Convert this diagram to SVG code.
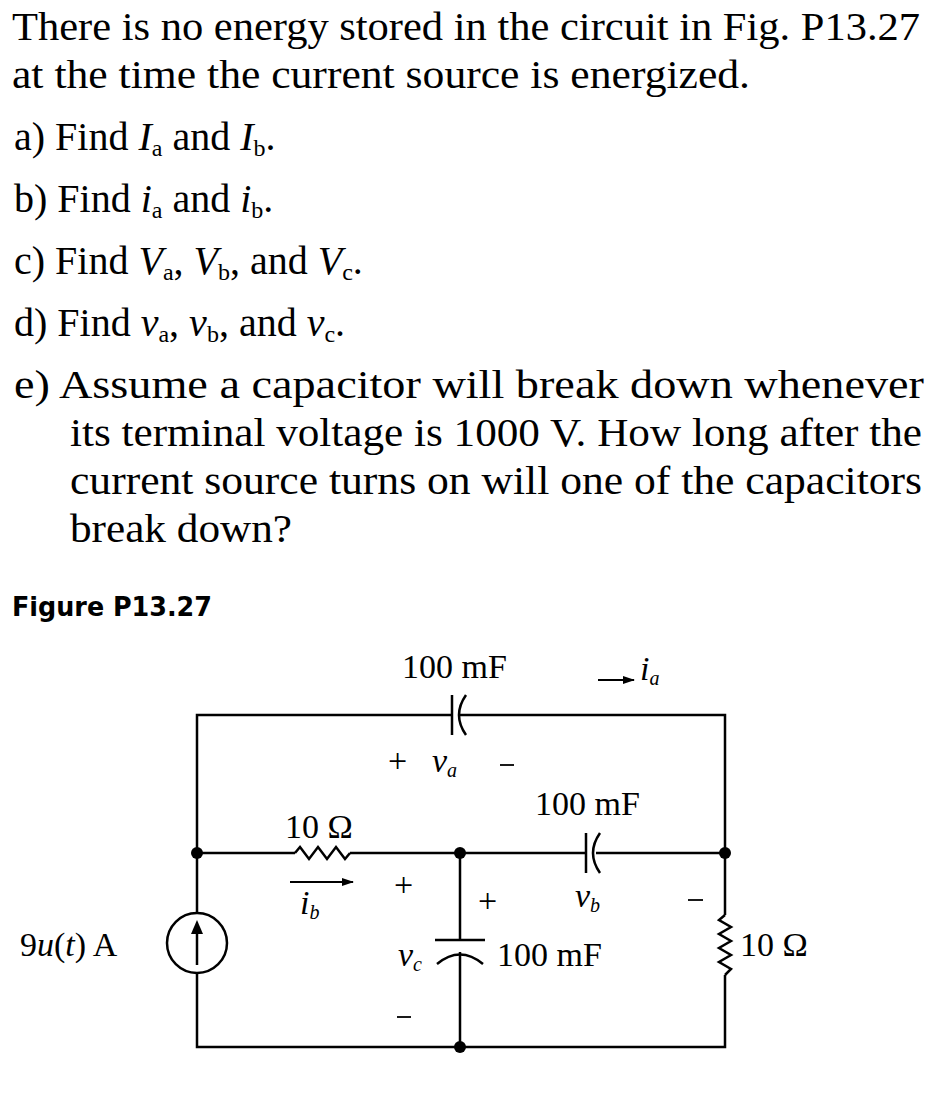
<svg xmlns="http://www.w3.org/2000/svg" width="938" height="1094" viewBox="0 0 938 1094">
<style>
.t{font-family:"Liberation Serif",serif;font-size:40px;fill:#000}
.c{font-family:"Liberation Serif",serif;font-size:34px;fill:#000}
.i{font-style:italic}
.w{stroke:#000;stroke-width:2.5;fill:none}
.m{stroke:#000;stroke-width:1.8}
.f{font-family:"DejaVu Sans Condensed","Liberation Sans",sans-serif;font-weight:bold;font-size:26px}
</style>
<defs><marker id="ah" markerWidth="12" markerHeight="8" refX="11" refY="4" orient="auto" markerUnits="userSpaceOnUse"><path d="M0,0L12,4L0,8z" fill="#000"/></marker></defs>
<rect width="938" height="1094" fill="#fff"/>
<g id="text">
<text class="t" x="12" y="40" textLength="908" lengthAdjust="spacingAndGlyphs">There is no energy stored in the circuit in Fig. P13.27</text>
<text class="t" x="12" y="88" textLength="738" lengthAdjust="spacingAndGlyphs">at the time the current source is energized.</text>
<text class="t" x="14" y="150">a)  Find <tspan class="i">I</tspan><tspan font-size="24" dy="6">a</tspan><tspan dy="-6"> and </tspan><tspan class="i">I</tspan><tspan font-size="24" dy="6">b</tspan><tspan dy="-6">.</tspan></text>
<text class="t" x="14" y="212">b)  Find <tspan class="i">i</tspan><tspan font-size="24" dy="6">a</tspan><tspan dy="-6"> and </tspan><tspan class="i">i</tspan><tspan font-size="24" dy="6">b</tspan><tspan dy="-6">.</tspan></text>
<text class="t" x="14" y="274">c)  Find <tspan class="i">V</tspan><tspan font-size="24" dy="6">a</tspan><tspan dy="-6">, </tspan><tspan class="i">V</tspan><tspan font-size="24" dy="6">b</tspan><tspan dy="-6">, and </tspan><tspan class="i">V</tspan><tspan font-size="24" dy="6">c</tspan><tspan dy="-6">.</tspan></text>
<text class="t" x="14" y="336">d)  Find <tspan class="i">v</tspan><tspan font-size="24" dy="6">a</tspan><tspan dy="-6">, </tspan><tspan class="i">v</tspan><tspan font-size="24" dy="6">b</tspan><tspan dy="-6">, and </tspan><tspan class="i">v</tspan><tspan font-size="24" dy="6">c</tspan><tspan dy="-6">.</tspan></text>
<text class="t" x="14" y="398" textLength="910" lengthAdjust="spacingAndGlyphs">e)  Assume a capacitor will break down whenever</text>
<text class="t" x="70" y="446" textLength="852" lengthAdjust="spacingAndGlyphs">its terminal voltage is 1000 V. How long after the</text>
<text class="t" x="70" y="494" textLength="852" lengthAdjust="spacingAndGlyphs">current source turns on will one of the capacitors</text>
<text class="t" x="70" y="542" textLength="222" lengthAdjust="spacingAndGlyphs">break down?</text>
<text class="f" x="12" y="616" textLength="200" lengthAdjust="spacingAndGlyphs">Figure P13.27</text>
</g>
<g id="wires" class="w">
<path d="M197,913V715H452M460,715H725V915M725,975V1047H197V973M197,853H295M350,853H586M596,853H725M460,853V940M460,952V1047"/>
</g>
<g id="cap_a"><path class="w" d="M452,695V735M466,695Q452,715 466,735"/><text class="c" x="402" y="678">100 mF</text>
<text class="c" x="388" y="772">+</text><text class="c i" x="432" y="772">v<tspan font-size="20" dy="5">a</tspan></text><line class="m" x1="500" y1="765" x2="514" y2="765"/></g>
<g id="cap_b"><path class="w" d="M586,833V873M600,833Q586,853 600,873"/><text class="c" x="535" y="815">100 mF</text><text class="c i" x="575" y="907">v<tspan font-size="20" dy="5">b</tspan></text><line class="m" x1="688" y1="900" x2="703" y2="900"/><text class="c" x="478" y="912">+</text></g>
<g id="cap_c"><path class="w" d="M435,940H485M437,964Q460,945 483,964"/><text class="c" x="497" y="966">100 mF</text><text class="c i" x="398" y="966">v<tspan font-size="20" dy="5">c</tspan></text><text class="c" x="394" y="896">+</text><line class="m" x1="397" y1="1017" x2="411" y2="1017"/></g>
<g id="r1"><path class="w" d="M295,853L300,847L309,859L318,847L327,859L336,847L345,859L350,853"/><text class="c" x="285" y="838">10 Ω</text>
<line class="m" x1="290" y1="882" x2="353" y2="882" marker-end="url(#ah)"/><text class="c i" x="300" y="914">i<tspan font-size="20" dy="5">b</tspan></text></g>
<g id="r2"><path class="w" d="M725,915L719,920L731,927L719,934L731,941L719,948L731,955L719,962L731,969L725,975"/><text class="c" x="740" y="956">10 Ω</text></g>
<g id="src"><circle class="w" cx="197" cy="943" r="30"/><line class="w" x1="197" y1="965" x2="197" y2="930"/><path d="M191,934L197,920L203,934z"/><text class="c" x="20" y="956">9<tspan class="i">u</tspan>(<tspan class="i">t</tspan>) A</text></g>
<g id="ia"><line class="m" x1="598" y1="680" x2="634" y2="680" marker-end="url(#ah)"/><text class="c i" x="640" y="680">i<tspan font-size="20" dy="5">a</tspan></text></g>
<g id="nodes"><circle cx="197" cy="853" r="6"/><circle cx="460" cy="853" r="6"/><circle cx="725" cy="853" r="6"/><circle cx="460" cy="1047" r="6"/></g>
</svg>
